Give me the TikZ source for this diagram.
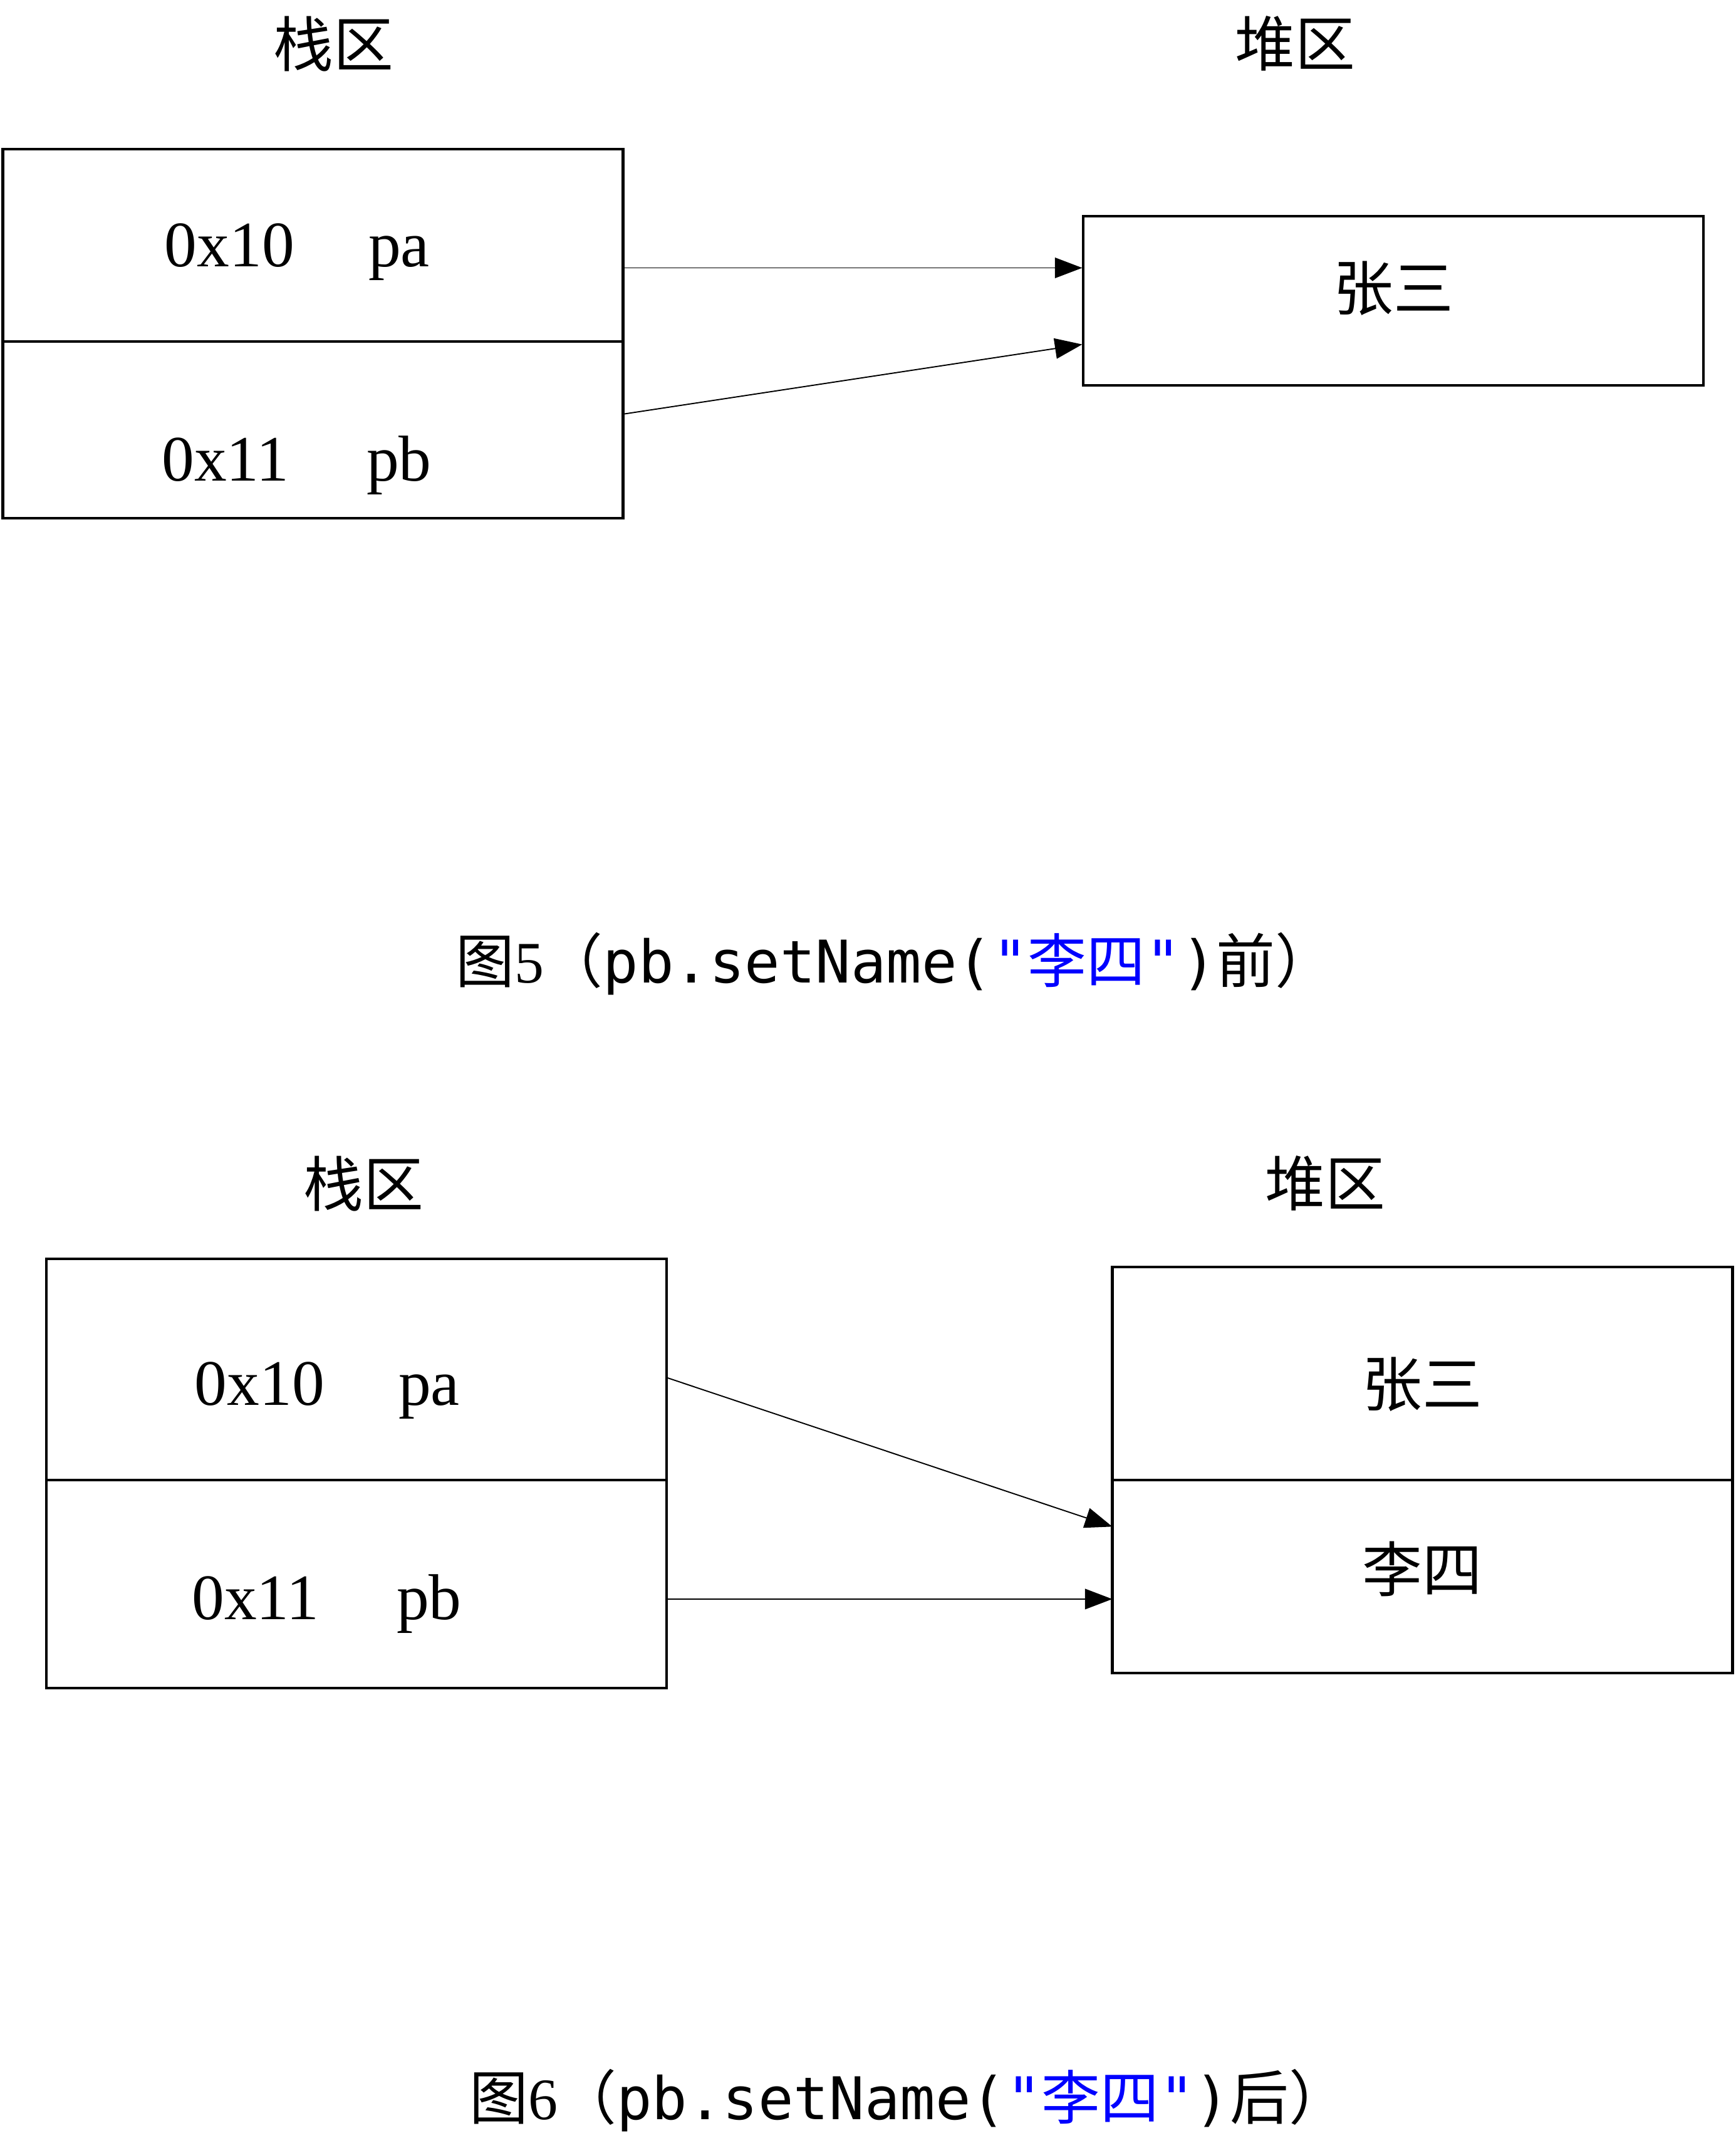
\documentclass[tikz,border=0pt]{standalone}
\usepackage{fontspec}
\setmainfont{Liberation Serif}
\setmonofont{DejaVu Sans Mono}
\newfontfamily\cjk{Noto Sans CJK SC}
\usetikzlibrary{arrows.meta}
\begin{document}
\begin{tikzpicture}[x=0.02cm,y=-0.02cm]
\tikzset{cell/.style={draw,line width=1.1pt,minimum width=9.08cm,inner sep=0pt},
  ptr/.style={-{Triangle[length=0.4cm,width=0.3cm]},line width=0.5pt},
  lbl/.style={font=\cjk\fontsize{25}{25}\selectfont},
  num/.style={font=\fontsize{27}{27}\selectfont,anchor=base},
  captext/.style={font=\fontsize{24.5}{24.5}\selectfont}}
\useasboundingbox (0,0) rectangle (1270,1568);
% before
\node [lbl] (stackA) at (244,32) {栈区};
\node [lbl] (heapA) at (948,32) {堆区};
\node [cell,minimum height=2.82cm] (paA) at (229,179.5) {};
\node [cell,minimum height=2.58cm] (pbA) at (229,314.5) {};
\node [cell,minimum height=2.48cm] (objA) at (1019.5,220) {};
\node [num] at (168,195) {0x10};
\node [num] at (292,195) {pa};
\node [num] at (165,352) {0x11};
\node [num] at (292,352) {pb};
\node [lbl] at (1020,211) {张三};
\coordinate (fromA1) at (456,196);
\coordinate (toA1) at (792,196);
\coordinate (fromA2) at (456,303);
\coordinate (toA2) at (792,252);
\draw [ptr] (fromA1) -- (toA1);
\draw [ptr] (fromA2) -- (toA2);
\node [captext] (capA) at (655,705) {{\cjk 图}5{\cjk （}\texttt{pb.setName(\textcolor{blue}{"{\cjk 李四}"})}{\cjk 前）}};
% after
\node [lbl] (stackB) at (266,866) {栈区};
\node [lbl] (heapB) at (970,866) {堆区};
\node [cell,minimum height=3.24cm] (paB) at (261,1002) {};
\node [cell,minimum height=3.04cm] (pbB) at (261,1159) {};
\node [cell,minimum height=3.12cm] (objB1) at (1041,1005) {};
\node [cell,minimum height=2.82cm] (objB2) at (1041,1153.5) {};
\node [num] at (190,1028) {0x10};
\node [num] at (314,1028) {pa};
\node [num] at (187,1185) {0x11};
\node [num] at (314,1185) {pb};
\node [lbl] at (1041,1013) {张三};
\node [lbl] at (1041,1148) {李四};
\coordinate (fromB1) at (488,1008);
\coordinate (toB1) at (814,1117);
\coordinate (fromB2) at (488,1170);
\coordinate (toB2) at (814,1170);
\draw [ptr] (fromB1) -- (toB1);
\draw [ptr] (fromB2) -- (toB2);
\node [captext] (capB) at (665,1537) {{\cjk 图}6{\cjk （}\texttt{pb.setName(\textcolor{blue}{"{\cjk 李四}"})}{\cjk 后）}};
\end{tikzpicture}
\end{document}
